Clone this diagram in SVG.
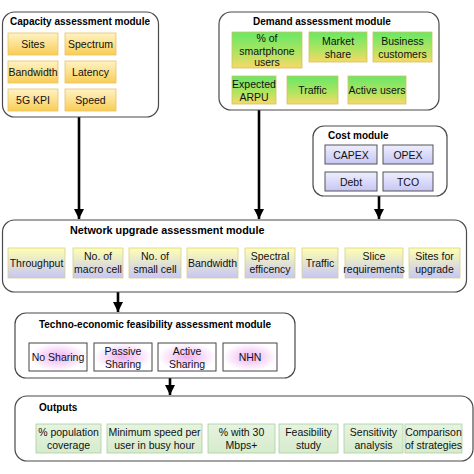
<svg xmlns="http://www.w3.org/2000/svg" width="474" height="474" viewBox="0 0 474 474">
<defs>
<linearGradient id="gCap" x1="0" y1="0" x2="0" y2="1"><stop offset="0" stop-color="#fff3c4"/><stop offset="1" stop-color="#f8cd55"/></linearGradient>
<linearGradient id="gDem" x1="0" y1="0" x2="0" y2="1"><stop offset="0" stop-color="#66e866"/><stop offset="0.6" stop-color="#b4e460"/><stop offset="1" stop-color="#f8d868"/></linearGradient>
<linearGradient id="gNet" x1="0" y1="0" x2="0" y2="1"><stop offset="0" stop-color="#ffffb0"/><stop offset="1" stop-color="#c6c6f6"/></linearGradient>
<linearGradient id="gCost" x1="0" y1="0" x2="0" y2="1"><stop offset="0" stop-color="#eeeeff"/><stop offset="1" stop-color="#c6c6f4"/></linearGradient>
<radialGradient id="gTech" cx="0.5" cy="0.5" r="0.5"><stop offset="0" stop-color="#f0b0f0"/><stop offset="1" stop-color="#ffffff"/></radialGradient>
<linearGradient id="gOut" x1="0" y1="0" x2="0" y2="1"><stop offset="0" stop-color="#e6f3e0"/><stop offset="1" stop-color="#d6ebcc"/></linearGradient>
<marker id="ah" markerWidth="4" markerHeight="4" refX="4" refY="2" orient="auto" markerUnits="strokeWidth"><path d="M0,0 L4,2 L0,4 Z" fill="#000"/></marker>
</defs>
<style>
.mod{fill:#fff;stroke:#4a4a4a;stroke-width:1.2}
.t{font-family:"Liberation Sans",Arial,sans-serif;font-size:10.5px;fill:#111;text-anchor:middle}
.h{font-family:"Liberation Sans",Arial,sans-serif;font-size:10px;font-weight:bold;fill:#000}
.cap{fill:url(#gCap);stroke:#e6c36a;stroke-width:0.8}
.dem{fill:url(#gDem);stroke:#d2c060;stroke-width:0.8}
.net{fill:url(#gNet);stroke:#d8d08c;stroke-width:0.8}
.cost{fill:url(#gCost);stroke:#555;stroke-width:1}
.tech{fill:url(#gTech);stroke:#444;stroke-width:1}
.out{fill:url(#gOut);stroke:#a8cfa0;stroke-width:0.8}
.c{stroke:#000;stroke-width:2.6;fill:none;marker-end:url(#ah)}
</style>

<g id="connectors">
<line class="c" x1="79" y1="117" x2="79" y2="219"/>
<line class="c" x1="259" y1="110" x2="259" y2="219"/>
<line class="c" x1="379" y1="196" x2="379" y2="219"/>
<line class="c" x1="118" y1="292" x2="118" y2="312"/>
<line class="c" x1="170" y1="378" x2="170" y2="395"/>
</g>

<g id="capacity">
<rect class="mod" x="2.5" y="12" width="156" height="105" rx="12"/>
<text class="h" x="10" y="25">Capacity assessment module</text>
<rect class="cap" x="8" y="33" width="50" height="22"/><text class="t" x="33" y="48">Sites</text>
<rect class="cap" x="65" y="33" width="51" height="22"/><text class="t" x="90.5" y="48">Spectrum</text>
<rect class="cap" x="8" y="61" width="50" height="22"/><text class="t" x="33" y="76">Bandwidth</text>
<rect class="cap" x="65" y="61" width="51" height="22"/><text class="t" x="90.5" y="76">Latency</text>
<rect class="cap" x="8" y="89" width="50" height="22"/><text class="t" x="33" y="104">5G KPI</text>
<rect class="cap" x="65" y="89" width="51" height="22"/><text class="t" x="90.5" y="104">Speed</text>
</g>

<g id="demand">
<rect class="mod" x="219" y="12" width="220" height="98" rx="12"/>
<text class="h" x="322" y="25" text-anchor="middle">Demand assessment module</text>
<rect class="dem" x="232" y="32" width="70" height="36"/>
<text class="t" x="267" y="42">% of</text><text class="t" x="267" y="54.5">smartphone</text><text class="t" x="267" y="66">users</text>
<rect class="dem" x="309" y="32" width="58" height="30"/>
<text class="t" x="338" y="45">Market</text><text class="t" x="338" y="57.5">share</text>
<rect class="dem" x="373" y="32" width="59" height="30"/>
<text class="t" x="402.5" y="45">Business</text><text class="t" x="402.5" y="57.5">customers</text>
<rect class="dem" x="232" y="76" width="44" height="28"/>
<text class="t" x="254" y="88">Expected</text><text class="t" x="254" y="100.5">ARPU</text>
<rect class="dem" x="287" y="76" width="51" height="28"/>
<text class="t" x="312.5" y="94">Traffic</text>
<rect class="dem" x="348" y="76" width="58" height="28"/>
<text class="t" x="377" y="94">Active users</text>
</g>

<g id="cost">
<rect class="mod" x="313" y="126" width="134" height="70" rx="11"/>
<text class="h" x="328" y="139">Cost module</text>
<rect class="cost" x="325" y="145" width="52" height="19"/><text class="t" x="351" y="158.5">CAPEX</text>
<rect class="cost" x="383" y="145" width="50" height="19"/><text class="t" x="408" y="158.5">OPEX</text>
<rect class="cost" x="325" y="172" width="52" height="19"/><text class="t" x="351" y="185.5">Debt</text>
<rect class="cost" x="383" y="172" width="50" height="19"/><text class="t" x="408" y="185.5">TCO</text>
</g>

<g id="network">
<rect class="mod" x="2.5" y="220" width="464" height="72" rx="12"/>
<text class="h" x="70" y="234" style="font-size:10.8px">Network upgrade assessment module</text>
<rect class="net" x="8" y="248" width="57" height="30"/><text class="t" x="36.5" y="267">Throughput</text>
<rect class="net" x="73" y="248" width="50" height="30"/><text class="t" x="98" y="260">No. of</text><text class="t" x="98" y="273">macro cell</text>
<rect class="net" x="129" y="248" width="52" height="30"/><text class="t" x="155" y="260">No. of</text><text class="t" x="155" y="273">small cell</text>
<rect class="net" x="187" y="248" width="51" height="30"/><text class="t" x="212.5" y="267">Bandwidth</text>
<rect class="net" x="245" y="248" width="50" height="30"/><text class="t" x="270" y="260">Spectral</text><text class="t" x="270" y="273">efficency</text>
<rect class="net" x="302" y="248" width="36" height="30"/><text class="t" x="320" y="267">Traffic</text>
<rect class="net" x="345" y="248" width="58" height="30"/><text class="t" x="374" y="260">Slice</text><text class="t" x="374" y="273">requirements</text>
<rect class="net" x="409" y="248" width="51" height="30"/><text class="t" x="434.5" y="260">Sites for</text><text class="t" x="434.5" y="273">upgrade</text>
</g>

<g id="techno">
<rect class="mod" x="15" y="313" width="280" height="65" rx="11"/>
<text class="h" x="155" y="328" text-anchor="middle">Techno-economic feasibility assessment module</text>
<rect class="tech" x="29" y="343" width="58" height="28"/><text class="t" x="58" y="361">No Sharing</text>
<rect class="tech" x="94" y="343" width="58" height="28"/><text class="t" x="123" y="355">Passive</text><text class="t" x="123" y="367.5">Sharing</text>
<rect class="tech" x="158" y="343" width="58" height="28"/><text class="t" x="187" y="355">Active</text><text class="t" x="187" y="367.5">Sharing</text>
<rect class="tech" x="223" y="343" width="54" height="28"/><text class="t" x="250" y="361">NHN</text>
</g>

<g id="outputs">
<rect class="mod" x="15" y="396" width="458" height="65" rx="12"/>
<text class="h" x="39" y="411">Outputs</text>
<rect class="out" x="36" y="424" width="65" height="29"/><text class="t" x="68.5" y="436">% population</text><text class="t" x="68.5" y="449">coverage</text>
<rect class="out" x="107" y="424" width="95" height="29"/><text class="t" x="154.5" y="436">Minimum speed per</text><text class="t" x="154.5" y="449">user in busy hour</text>
<rect class="out" x="208" y="424" width="67" height="29"/><text class="t" x="241.5" y="436">% with 30</text><text class="t" x="241.5" y="449">Mbps+</text>
<rect class="out" x="279" y="424" width="59" height="29"/><text class="t" x="308.5" y="436">Feasibility</text><text class="t" x="308.5" y="449">study</text>
<rect class="out" x="344" y="424" width="59" height="29"/><text class="t" x="373.5" y="436">Sensitivity</text><text class="t" x="373.5" y="449">analysis</text>
<rect class="out" x="405" y="424" width="57" height="29"/><text class="t" x="433.5" y="436">Comparison</text><text class="t" x="433.5" y="449">of strategies</text>
</g>
</svg>
